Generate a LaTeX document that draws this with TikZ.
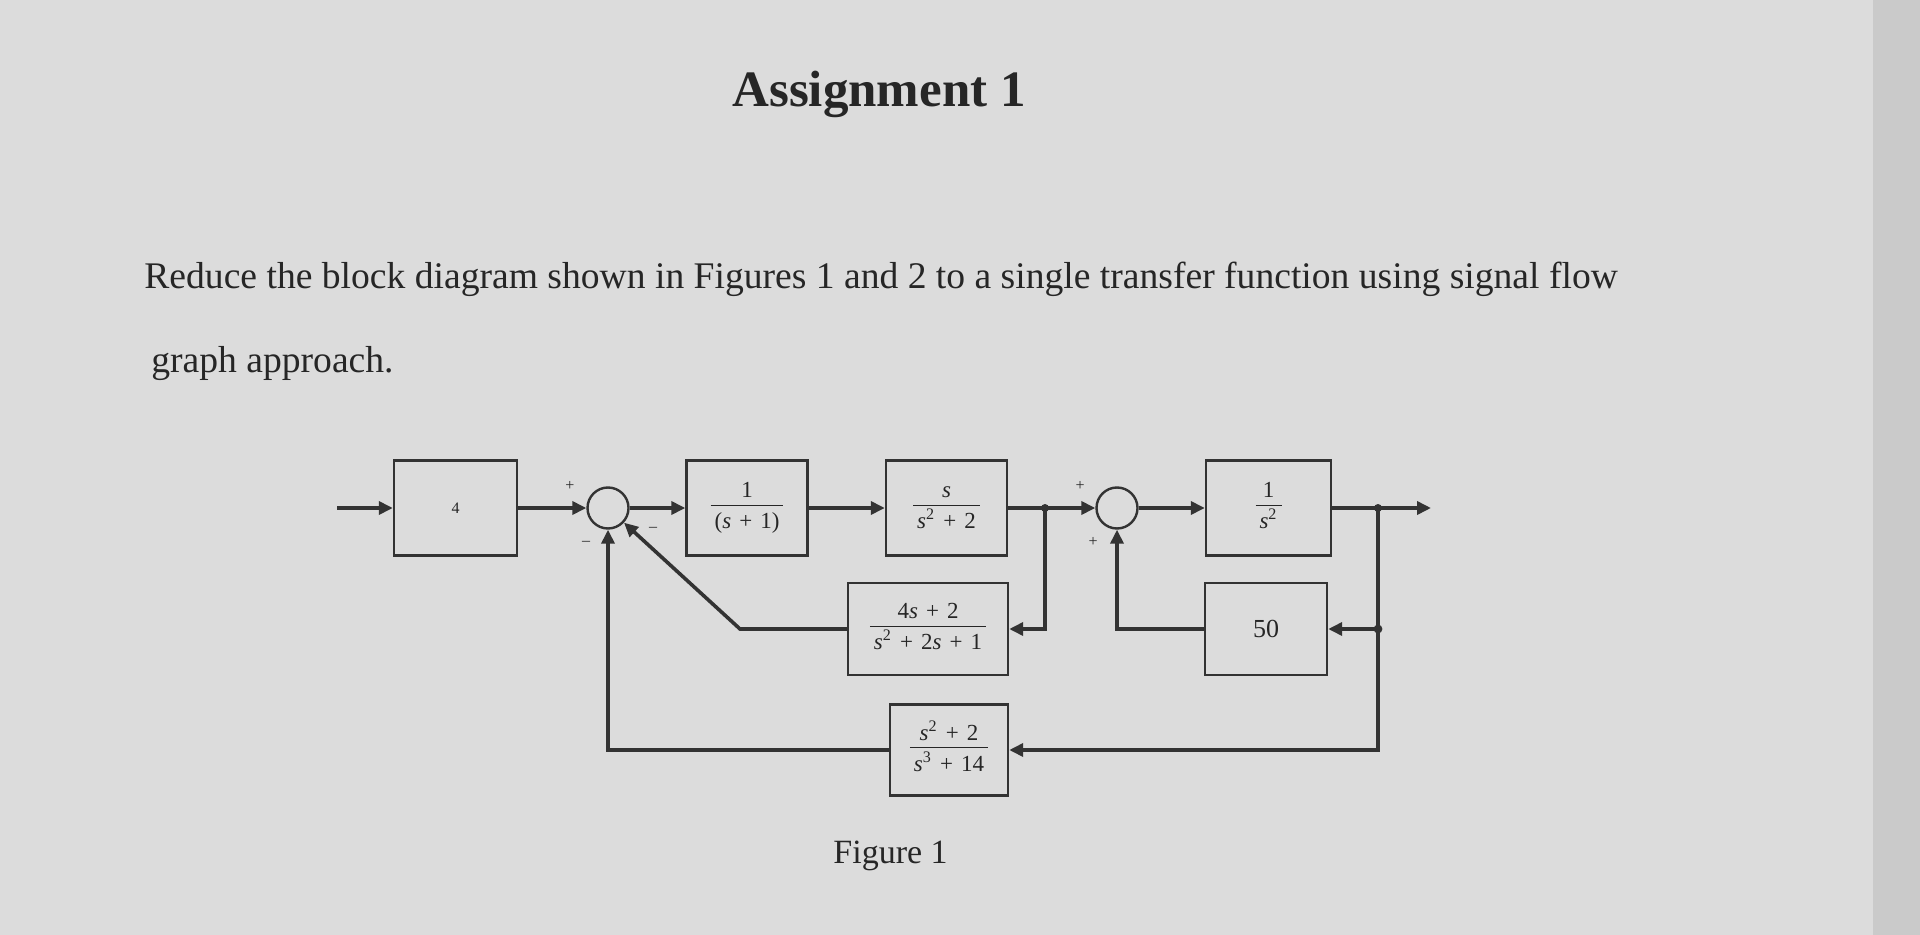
\documentclass[tikz,border=0pt]{standalone}
\usepackage{fontspec}
\setmainfont{Liberation Serif}
\usetikzlibrary{arrows.meta}
\definecolor{lc}{HTML}{333333}
\definecolor{bgc}{HTML}{DCDCDC}
\definecolor{bgr}{HTML}{CACACA}
\definecolor{txc}{HTML}{262626}
\newcommand\myfr[2]{\begin{tabular}{@{\hspace{2pt}}c@{\hspace{2pt}}}#1\\[-0.5pt]\hline\rule{0pt}{11.5pt}#2\end{tabular}}
\newcommand\vs{\textit{s}}
\newcommand\pl{\hspace{0.35em}+\hspace{0.35em}}
\begin{document}
\begin{tikzpicture}[x=0.5pt,y=-0.5pt,
  line/.style={draw=lc, line width=1.8pt},
  arr/.style={line, -{Triangle[length=7pt,width=6.5pt]}},
  blk/.style={draw=lc, line width=1.2pt, minimum width=60.5pt, minimum height=47.5pt, inner sep=0pt,
     text=txc, font=\fontsize{11.5}{13}\selectfont},
  sumc/.style={draw=lc, line width=1.2pt, circle, minimum size=20.5pt, inner sep=0pt},
  sgn/.style={text=txc, font=\fontsize{8}{8}\selectfont, inner sep=0pt},
  txt/.style={text=txc, inner sep=0pt}]
\useasboundingbox (0,0) rectangle (1920,935);
\fill[bgc] (0,0) rectangle (1920,935);
\fill[bgr] (1873,0) rectangle (1920,935);

% texts
\node[txt, anchor=base, font=\fontsize{25.5}{30}\selectfont\bfseries] (title) at (879,107) {Assignment 1};
\node[txt, anchor=base west, font=\fontsize{18.8}{22}\selectfont] (p1) at (144,289)
  {Reduce the block diagram shown in Figures 1 and 2 to a single transfer function using signal flow};
\node[txt, anchor=base west, font=\fontsize{18.8}{22}\selectfont] (p2) at (151,372) {graph approach.};
\node[txt, anchor=base west, font=\fontsize{17}{20}\selectfont] (fig) at (833,863) {Figure 1};

% blocks
\node[blk, minimum width=61.5pt] (b4) at (455.5,508) {\fontsize{8}{9}\selectfont 4};
\node[sumc] (s1) at (608,508) {};
\node[blk] (b1) at (747,508) {\myfr{1}{(\vs\pl 1)}};
\node[blk] (b2) at (946.5,508) {\myfr{\vs}{\vs\textsuperscript{2}\pl 2}};
\node[sumc] (s2) at (1117,508) {};
\node[blk, minimum width=62.5pt] (b3) at (1268.5,508) {\myfr{1}{\vs\textsuperscript{2}}};
\node[blk, minimum width=80pt, minimum height=46pt] (f1) at (928,629)
  {\myfr{4\vs\pl 2}{\vs\textsuperscript{2}\pl 2\vs\pl 1}};
\node[blk, minimum width=61pt, minimum height=46pt, font=\fontsize{13}{14}\selectfont] (f2) at (1266,629) {50};
\node[blk, minimum width=59pt, minimum height=45.5pt] (f3) at (949,750)
  {\myfr{\vs\textsuperscript{2}\pl 2}{\vs\textsuperscript{3}\pl 14}};

% coordinates
\coordinate (in) at (337,508);
\coordinate (j1) at (1045,508);
\coordinate (j2) at (1378,508);
\coordinate (j3) at (1378,629);
\coordinate (out) at (1431,508);
\coordinate (d1) at (740,629);
\coordinate (c3) at (1378,750);

% connectors
\draw[arr] (in) -- (b4);
\draw[arr] (b4) -- (s1);
\draw[arr] (s1) -- (b1);
\draw[arr] (b1) -- (b2);
\draw[line] (b2) -- (j1);
\draw[arr] (j1) -- (s2);
\draw[arr] (s2) -- (b3);
\draw[line] (b3) -- (j2);
\draw[arr] (j2) -- (out);
\draw[arr] (j1) |- (f1);
\draw[arr] (f1) -- (d1) -- (s1);
\draw[arr] (j2) |- (f2);
\draw[arr] (f2) -| (s2);
\draw[arr] (j3) -- (c3) -- (f3);
\draw[arr] (f3) -| (s1);
\fill[lc] (j1) circle (2pt);
\fill[lc] (j2) circle (2pt);
\fill[lc] (j3) circle (2.2pt);

% signs
\node[sgn] (p11) at (570,486) {+};
\node[sgn] (m12) at (653,529) {--};
\node[sgn] (m13) at (586,543) {--};
\node[sgn] (p21) at (1080,486) {+};
\node[sgn] (p22) at (1093,542) {+};
\end{tikzpicture}
\end{document}
